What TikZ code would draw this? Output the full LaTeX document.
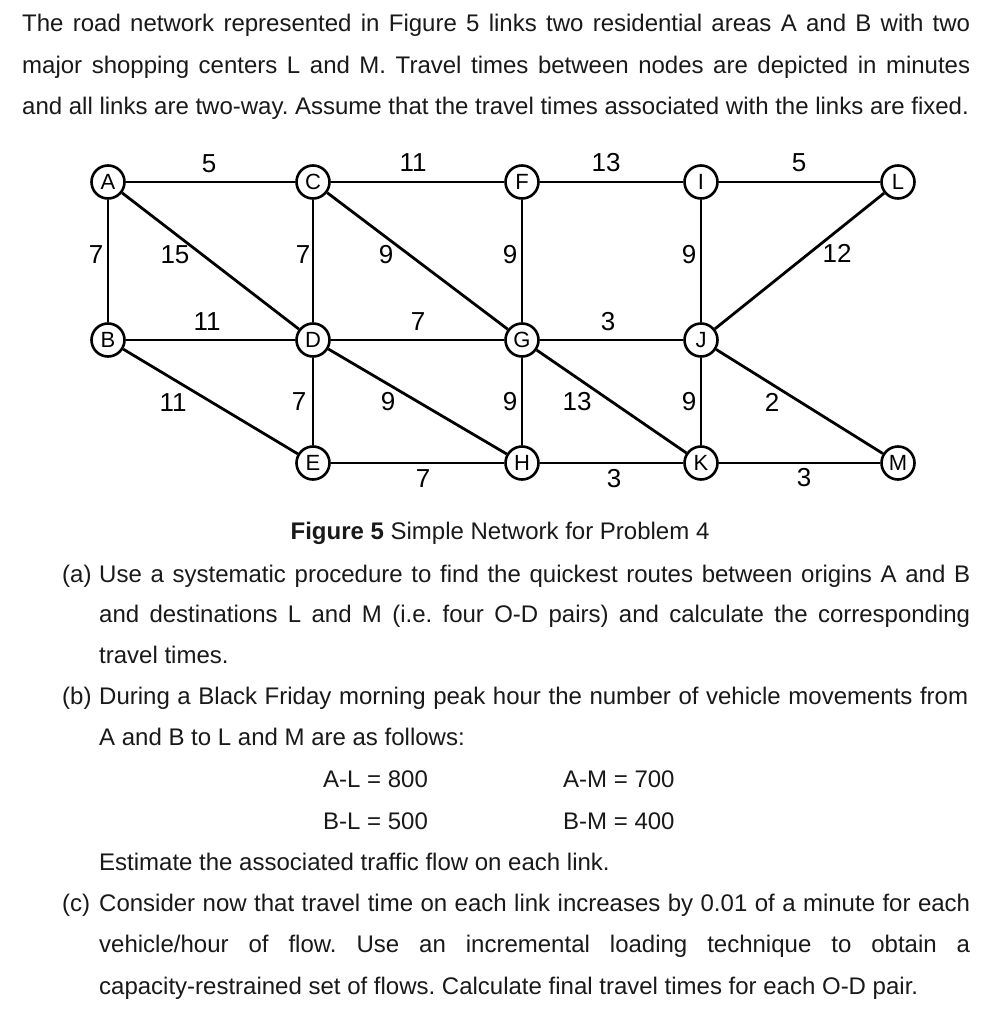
\documentclass[tikz,border=0pt]{standalone}
\usepackage{fontspec}
\setmainfont[Ligatures=NoCommon]{Liberation Sans}
\frenchspacing
\begin{document}
\begin{tikzpicture}[x=1pt,y=-1pt,
  vtx/.style={circle, draw=black, line width=2.6pt, minimum size=33pt, inner sep=0pt, fill=white, font=\fontsize{22}{22}\selectfont},
  road/.style={line width=2.8pt, black},
  wt/.style={inner sep=0pt, font=\fontsize{26}{26}\selectfont},
  txt/.style={anchor=base west, inner sep=0pt, font=\fontsize{24}{24}\selectfont, text=black!90},
]
\useasboundingbox[fill=white] (0,0) rectangle (996,1024);

% ---------- paragraph ----------
\node[txt] (p1) at (22,32) {\makebox[948pt][s]{The road network represented in Figure 5 links two residential areas A and B with two}};
\node[txt] (p2) at (22,74) {\makebox[948pt][s]{major shopping centers L and M. Travel times between nodes are depicted in minutes}};
\node[txt] (p3) at (22,115) {and all links are two-way. Assume that the travel times associated with the links are fixed.};

% ---------- network ----------
\node[vtx] (A) at (108,182) {A};
\node[vtx] (C) at (313,182) {C};
\node[vtx] (F) at (522,182) {F};
\node[vtx] (I) at (701,182) {I};
\node[vtx] (L) at (898,182) {L};
\node[vtx] (B) at (108,340) {B};
\node[vtx] (D) at (313,340) {D};
\node[vtx] (G) at (522,340) {G};
\node[vtx] (J) at (701,340) {J};
\node[vtx] (E) at (313,463) {E};
\node[vtx] (H) at (522,463) {H};
\node[vtx] (K) at (701,463) {K};
\node[vtx] (M) at (898,463) {M};

\draw[road] (A) -- (C);
\draw[road] (C) -- (F);
\draw[road] (F) -- (I);
\draw[road] (I) -- (L);
\draw[road] (A) -- (B);
\draw[road] (A) -- (D);
\draw[road] (C) -- (D);
\draw[road] (C) -- (G);
\draw[road] (F) -- (G);
\draw[road] (I) -- (J);
\draw[road] (J) -- (L);
\draw[road] (B) -- (D);
\draw[road] (D) -- (G);
\draw[road] (G) -- (J);
\draw[road] (B) -- (E);
\draw[road] (D) -- (E);
\draw[road] (D) -- (H);
\draw[road] (G) -- (H);
\draw[road] (G) -- (K);
\draw[road] (J) -- (K);
\draw[road] (J) -- (M);
\draw[road] (E) -- (H);
\draw[road] (H) -- (K);
\draw[road] (K) -- (M);

\node[wt] (wAC) at (209,164) {5};
\node[wt] (wCF) at (413,163) {11};
\node[wt] (wFI) at (606,163) {13};
\node[wt] (wIL) at (799,163) {5};
\node[wt] (wAB) at (96,255) {7};
\node[wt] (wAD) at (175,255) {15};
\node[wt] (wCD) at (303,255) {7};
\node[wt] (wCG) at (386,255) {9};
\node[wt] (wFG) at (510,255) {9};
\node[wt] (wIJ) at (689,255) {9};
\node[wt] (wJL) at (837,253) {12};
\node[wt] (wBD) at (207,322) {11};
\node[wt] (wDG) at (418,322) {7};
\node[wt] (wGJ) at (608,322) {3};
\node[wt] (wBE) at (173,403) {11};
\node[wt] (wDE) at (299,402) {7};
\node[wt] (wDH) at (388,402) {9};
\node[wt] (wGH) at (510,402) {9};
\node[wt] (wGK) at (577,402) {13};
\node[wt] (wJK) at (689,402) {9};
\node[wt] (wJM) at (772,402) {2};
\node[wt] (wEH) at (423,479) {7};
\node[wt] (wHK) at (614,479) {3};
\node[wt] (wKM) at (804,478) {3};

% ---------- caption and questions ----------
\node[txt, anchor=base] (cap) at (500,539) {\textbf{Figure 5} Simple Network for Problem 4};

\node[txt] (qa) at (62,582) {(a)};
\node[txt] (a1) at (99,582) {\makebox[871pt][s]{Use a systematic procedure to find the quickest routes between origins A and B}};
\node[txt] (a2) at (99,622) {\makebox[871pt][s]{and destinations L and M (i.e. four O-D pairs) and calculate the corresponding}};
\node[txt] (a3) at (99,663) {travel times.};

\node[txt] (qb) at (62,704) {(b)};
\node[txt] (b1) at (99,704) {\makebox[869pt][s]{During a Black Friday morning peak hour the number of vehicle movements from}};
\node[txt] (b2) at (99,745) {A and B to L and M are as follows:};
\node[txt] (al) at (323,787) {A-L = 800};
\node[txt] (am) at (563,787) {A-M = 700};
\node[txt] (bl) at (323,829) {B-L = 500};
\node[txt] (bm) at (563,829) {B-M = 400};
\node[txt] (b3) at (99,870) {Estimate the associated traffic flow on each link.};

\node[txt] (qc) at (62,911) {(c)};
\node[txt] (c1) at (99,911) {\makebox[871pt][s]{Consider now that travel time on each link increases by 0.01 of a minute for each}};
\node[txt] (c2) at (99,952) {\makebox[871pt][s]{vehicle/hour of flow. Use an incremental loading technique to obtain a}};
\node[txt] (c3) at (99,994) {capacity-restrained set of flows. Calculate final travel times for each O-D pair.};
\end{tikzpicture}
\end{document}
